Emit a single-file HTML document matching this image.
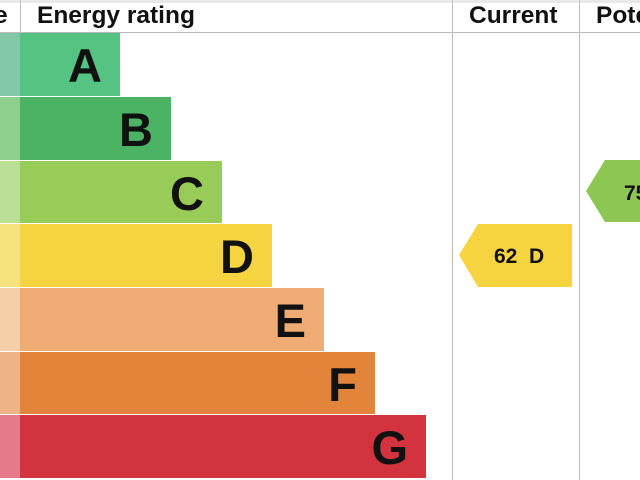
<!DOCTYPE html>
<html><head><style>
body{margin:0;width:640px;height:480px;overflow:hidden;background:#fff;font-family:"Liberation Sans",Arial,sans-serif;position:relative}
#w{position:absolute;left:0;top:0;width:640px;height:480px;overflow:hidden}
#w div{position:absolute}
.h{top:2px;font-weight:bold;font-size:24.5px;color:#111;white-space:nowrap}
.bar{left:20px;font-weight:bold;font-size:47px;color:#111;text-align:right;box-sizing:border-box;padding-right:18px;line-height:66px}
.s{left:0;width:20px}
</style></head><body><div id="w">
<div style="left:0;top:0;width:640px;height:3px;background:#e8e8e8"></div>
<div style="left:0;top:32px;width:640px;height:1px;background:#bbb"></div>
<div style="left:20px;top:0;width:1px;height:33px;background:#bbb"></div>
<div style="left:452px;top:0;width:1px;height:480px;background:#bbb"></div>
<div style="left:579px;top:0;width:1px;height:480px;background:#bbb"></div>
<div class="h" style="left:-6px">e</div>
<div class="h" style="left:37px">Energy rating</div>
<div class="h" style="left:469px">Current</div>
<div class="h" style="left:596px">Potential</div>

<div class="s" style="top:33px;height:63px;background:#82c8a8"></div>
<div class="s" style="top:97px;height:63px;background:#8fcf8e"></div>
<div class="s" style="top:161px;height:62px;background:#bcdf96"></div>
<div class="s" style="top:224px;height:63px;background:#f5e27e"></div>
<div class="s" style="top:288px;height:63px;background:#f5cfa8"></div>
<div class="s" style="top:352px;height:62px;background:#eeb488"></div>
<div class="s" style="top:415px;height:63px;background:#e57a8c"></div>

<div class="bar" style="top:33px;height:63px;width:100px;background:#55c482">A</div>
<div class="bar" style="top:97px;height:63px;width:151px;background:#4db364">B</div>
<div class="bar" style="top:161px;height:62px;width:202px;background:#98cb57">C</div>
<div class="bar" style="top:224px;height:63px;width:252px;background:#f5d440">D</div>
<div class="bar" style="top:288px;height:63px;width:304px;background:#eeac74">E</div>
<div class="bar" style="top:352px;height:62px;width:355px;background:#e2853a">F</div>
<div class="bar" style="top:415px;height:63px;width:406px;background:#d3333f">G</div>

<svg style="position:absolute;left:0;top:0" width="640" height="480">
<polygon points="459,255 478,224 572,224 572,287 478,287" fill="#f5d440"/>
<polygon points="586,191 605,160 640,160 640,222 605,222" fill="#8dc653"/>
<text x="494" y="263" font-family="Liberation Sans,Arial" font-weight="bold" font-size="21" fill="#111" xml:space="preserve">62  D</text>
<text x="624" y="200" font-family="Liberation Sans,Arial" font-weight="bold" font-size="21" fill="#111">75</text>
</svg>
</div></body></html>
